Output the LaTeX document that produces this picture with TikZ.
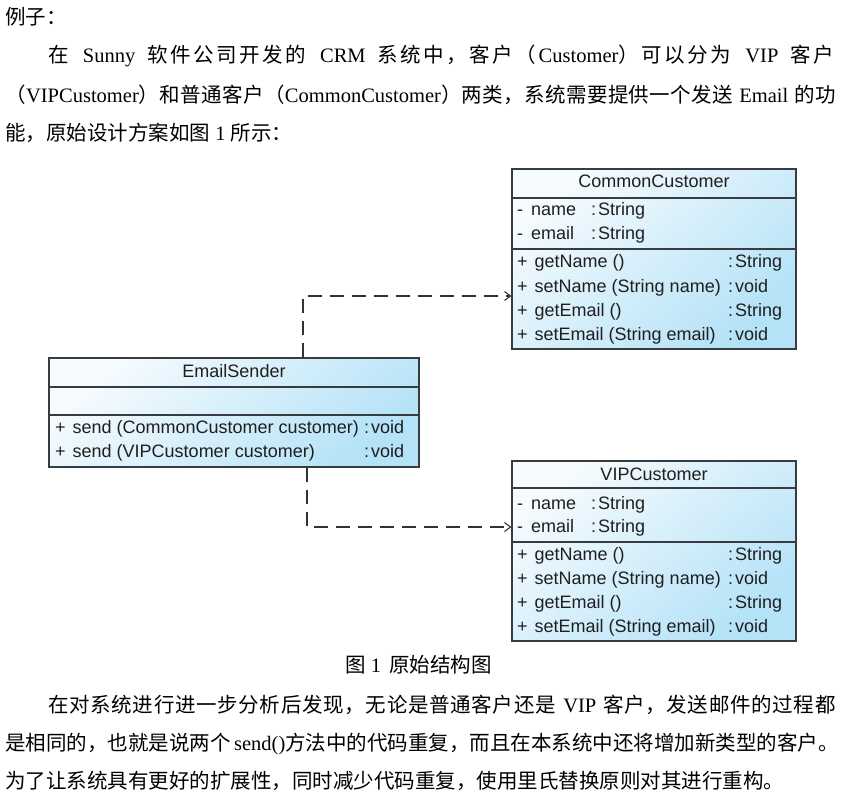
\documentclass[tikz,border=0pt]{standalone}
\usepackage{fontspec}
\setmainfont{Liberation Serif}
\newfontfamily\zhfont{Noto Sans CJK SC}
\newfontfamily\umlfont{Liberation Sans}
\usetikzlibrary{arrows.meta}
\newcommand\zh[1]{{\zhfont #1}}
\newcommand\rt[1]{:\hspace{2pt}#1}
\makeatletter
\newcommand\zs[1]{{\zhfont\@tfor\zs@c:=#1\do{\zs@c\hskip 0pt plus 1pt}}}
\makeatother
\definecolor{boxlight}{RGB}{246,251,254}
\definecolor{boxblue}{RGB}{180,226,247}
\definecolor{boxline}{RGB}{55,60,65}
\tikzset{
  para/.style={anchor=base west, inner sep=0pt, font=\fontsize{20.5}{24}\selectfont},
  classbox/.style={draw=boxline, line width=1.1pt, inner sep=0pt, rectangle,
    top color=boxlight, bottom color=boxblue, shading angle=40},
  sep/.style={draw=boxline, line width=1.1pt},
  uml/.style={anchor=base west, inner sep=0pt, font=\umlfont\fontsize{18}{20}\selectfont, text=black!88},
  umltitle/.style={anchor=base, inner sep=0pt, font=\umlfont\fontsize{18}{20}\selectfont, text=black!88},
  dep/.style={draw=black!80, line width=1.1pt, dash pattern=on 14pt off 8pt,
    -{Straight Barb[length=6pt,width=9pt]}}
}
\begin{document}
\begin{tikzpicture}[x=1pt,y=-1pt]
\useasboundingbox (0,0) rectangle (850,799);
\fill[white] (0,0) rectangle (850,799);

% paragraph text
\node[para] (p1) at (5,25) {\zh{例子：}};
\node[para] (p2) at (48,63) {\makebox[788pt][s]{\zs{在} Sunny \zs{软件公司开发的} CRM \zs{系统中，客户（}Customer\zs{）可以分为} VIP \zs{客户}}};
\node[para] (p3) at (5,103) {\makebox[831pt][s]{\zs{（}VIPCustomer\zs{）和普通客户（}CommonCustomer\zs{）两类，系统需要提供一个发送} Email \zs{的功}}};
\node[para] (p4) at (5,141) {\zh{能，原始设计方案如图} 1 \zh{所示：}};

% classes
\node[classbox, minimum width=284pt, minimum height=180pt] (cc) at (654,259) {};
\draw[sep] (512,198) -- (796,198);
\draw[sep] (512,249) -- (796,249);
\node[umltitle] (cct) at (654,188) {CommonCustomer};
\node[uml] (cca1) at (517,216) {-\hspace{8pt}name};
\node[uml] (cca1t) at (591,216) {\rt{String}};
\node[uml] (cca2) at (517,240) {-\hspace{8pt}email};
\node[uml] (cca2t) at (591,240) {\rt{String}};
\node[uml] (ccm1) at (517,268) {+\hspace{7pt}getName ()};
\node[uml] (ccm1t) at (728,268) {\rt{String}};
\node[uml] (ccm2) at (517,292) {+\hspace{7pt}setName (String name)};
\node[uml] (ccm2t) at (728,292) {\rt{void}};
\node[uml] (ccm3) at (517,316) {+\hspace{7pt}getEmail ()};
\node[uml] (ccm3t) at (728,316) {\rt{String}};
\node[uml] (ccm4) at (517,340) {+\hspace{7pt}setEmail (String email)};
\node[uml] (ccm4t) at (728,340) {\rt{void}};

\node[classbox, minimum width=370pt, minimum height=109pt] (es) at (234,412.5) {};
\draw[sep] (49,387) -- (419,387);
\draw[sep] (49,415) -- (419,415);
\node[umltitle] (est) at (234,377) {EmailSender};
\node[uml] (esm1) at (55,433) {+\hspace{7pt}send (CommonCustomer customer)};
\node[uml] (esm1t) at (364,433) {\rt{void}};
\node[uml] (esm2) at (55,457) {+\hspace{7pt}send (VIPCustomer customer)};
\node[uml] (esm2t) at (364,457) {\rt{void}};

\node[classbox, minimum width=284pt, minimum height=180pt] (vip) at (654,551) {};
\draw[sep] (512,488) -- (796,488);
\draw[sep] (512,542) -- (796,542);
\node[umltitle] (vipt) at (654,480) {VIPCustomer};
\node[uml] (vipa1) at (517,509) {-\hspace{8pt}name};
\node[uml] (vipa1t) at (591,509) {\rt{String}};
\node[uml] (vipa2) at (517,532) {-\hspace{8pt}email};
\node[uml] (vipa2t) at (591,532) {\rt{String}};
\node[uml] (vipm1) at (517,560) {+\hspace{7pt}getName ()};
\node[uml] (vipm1t) at (728,560) {\rt{String}};
\node[uml] (vipm2) at (517,584) {+\hspace{7pt}setName (String name)};
\node[uml] (vipm2t) at (728,584) {\rt{void}};
\node[uml] (vipm3) at (517,608) {+\hspace{7pt}getEmail ()};
\node[uml] (vipm3t) at (728,608) {\rt{String}};
\node[uml] (vipm4) at (517,632) {+\hspace{7pt}setEmail (String email)};
\node[uml] (vipm4t) at (728,632) {\rt{void}};

% dependencies
\coordinate (b1) at (303,296);
\coordinate (b2) at (307,527);
\draw[dep] (es.north -| b1) -- (b1) -- (cc.west |- b1);
\draw[dep] (es.south -| b2) -- (b2) -- (vip.west |- b2);

% caption and following text
\node[para] (cap) at (345,672) {\zh{图} 1\hspace{8pt}\zh{原始结构图}};
\node[para] (q1) at (48,712) {\makebox[788pt][s]{\zs{在对系统进行进一步分析后发现，无论是普通客户还是} VIP \zs{客户，发送邮件的过程都}}};
\node[para] (q2) at (5,750) {\makebox[831pt][s]{\zs{是相同的，也就是说两个} send()\zs{方法中的代码重复，而且在本系统中还将增加新类型的客户。}}};
\node[para] (q3) at (5,788) {\zh{为了让系统具有更好的扩展性，同时减少代码重复，使用里氏替换原则对其进行重构。}};
\end{tikzpicture}
\end{document}
